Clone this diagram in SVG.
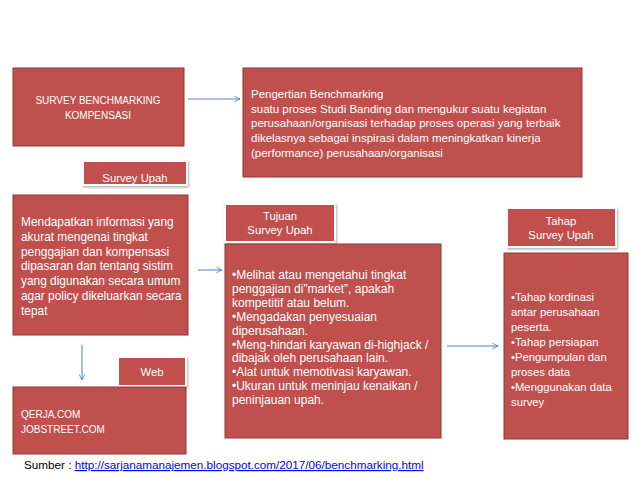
<svg xmlns="http://www.w3.org/2000/svg" width="638" height="478" viewBox="0 0 638 478">
<defs>
<style>
.box{fill:#C0504D;stroke:#8C3836;stroke-width:1}
.lbl{fill:#C0504D;stroke:#FFFFFF;stroke-width:2}
.t{font-family:"Liberation Sans",Arial,sans-serif;font-size:11.3px;fill:#FFFFFF}
.caps{font-size:10px}
.c{text-anchor:middle}
.conn{stroke:#4F81BD;stroke-width:1;fill:none;marker-end:url(#ah)}
.src{font-family:"Liberation Sans",Arial,sans-serif;font-size:11.7px;fill:#000000}
</style>
<marker id="ah" viewBox="0 0 10 10" refX="9" refY="5" markerWidth="7" markerHeight="7" orient="auto" markerUnits="userSpaceOnUse">
<path d="M1,1 L9,5 L1,9" fill="none" stroke="#4F81BD" stroke-width="1.2"/>
</marker>
<filter id="sh" x="-10%" y="-10%" width="130%" height="140%">
<feDropShadow dx="1" dy="1.5" stdDeviation="1.2" flood-color="#000" flood-opacity="0.3"/>
</filter>
</defs>
<rect width="638" height="478" fill="#FFFFFF"/>

<g id="connectors">
<line class="conn" x1="188" y1="99" x2="240" y2="99"/>
<line class="conn" x1="198" y1="270" x2="222" y2="270"/>
<line class="conn" x1="447" y1="346" x2="498" y2="346"/>
<line class="conn" x1="82" y1="345" x2="82" y2="380"/>
</g>

<g id="survey-benchmarking">
<rect class="box" x="13" y="68" width="171" height="78"/>
<text class="t c caps" x="98" y="104">SURVEY BENCHMARKING</text>
<text class="t c caps" x="98" y="119">KOMPENSASI</text>
</g>

<g id="pengertian">
<rect class="box" x="243" y="68" width="339" height="109"/>
<g class="t" style="font-size:11.5px">
<text x="251" y="98">Pengertian Benchmarking</text>
<text x="251" y="112.7">suatu proses Studi Banding dan mengukur suatu kegiatan</text>
<text x="251" y="127.4">perusahaan/organisasi terhadap proses operasi yang terbaik</text>
<text x="251" y="142.1">dikelasnya sebagai inspirasi dalam meningkatkan kinerja</text>
<text x="251" y="156.8">(performance) perusahaan/organisasi</text>
</g>
</g>

<g id="label-survey-upah">
<rect class="lbl" x="83" y="161" width="104" height="24" filter="url(#sh)"/>
<text class="t c" x="135" y="182">Survey Upah</text>
</g>

<g id="mendapatkan">
<rect class="box" x="13" y="195" width="175" height="140"/>
<g class="t" style="font-size:11.9px">
<text x="21" y="226">Mendapatkan informasi yang</text>
<text x="21" y="240.8">akurat mengenai tingkat</text>
<text x="21" y="255.6">penggajian dan kompensasi</text>
<text x="21" y="270.4">dipasaran dan tentang sistim</text>
<text x="21" y="285.2">yang digunakan secara umum</text>
<text x="21" y="300">agar policy  dikeluarkan secara</text>
<text x="21" y="314.8">tepat</text>
</g>
</g>

<g id="label-tujuan">
<rect class="lbl" x="225" y="204" width="110" height="38" filter="url(#sh)"/>
<text class="t c" x="280" y="220">Tujuan</text>
<text class="t c" x="280" y="234">Survey Upah</text>
</g>

<g id="tujuan">
<rect class="box" x="225" y="244" width="216" height="194"/>
<g class="t" style="font-size:12px">
<text x="232" y="279">•Melihat atau mengetahui tingkat</text>
<text x="232" y="292.9">penggajian di”market”, apakah</text>
<text x="232" y="306.8">kompetitif atau belum.</text>
<text x="232" y="320.7">•Mengadakan penyesuaian</text>
<text x="232" y="334.6">diperusahaan.</text>
<text x="232" y="348.5">•Meng-hindari karyawan di-highjack /</text>
<text x="232" y="362.4">dibajak oleh perusahaan lain.</text>
<text x="232" y="376.3">•Alat untuk memotivasi karyawan.</text>
<text x="232" y="390.2">•Ukuran untuk meninjau kenaikan /</text>
<text x="232" y="404.1">peninjauan  upah.</text>
</g>
</g>

<g id="label-tahap">
<rect class="lbl" x="507" y="208" width="109" height="39" filter="url(#sh)"/>
<text class="t c" x="561" y="225">Tahap</text>
<text class="t c" x="561" y="239">Survey Upah</text>
</g>

<g id="tahap">
<rect class="box" x="504" y="253" width="124" height="186"/>
<text class="t" x="511" y="301">•Tahap kordinasi</text>
<text class="t" x="511" y="316">antar perusahaan</text>
<text class="t" x="511" y="331">peserta.</text>
<text class="t" x="511" y="346">•Tahap persiapan</text>
<text class="t" x="511" y="361">•Pengumpulan dan</text>
<text class="t" x="511" y="376">proses data</text>
<text class="t" x="511" y="391">•Menggunakan data</text>
<text class="t" x="511" y="406">survey</text>
</g>

<g id="label-web">
<rect class="lbl" x="118" y="357" width="68" height="29" filter="url(#sh)"/>
<text class="t c" x="152" y="376">Web</text>
</g>

<g id="web">
<rect class="box" x="13" y="387" width="173" height="67"/>
<text class="t caps" x="21" y="418">QERJA.COM</text>
<text class="t caps" x="21" y="433">JOBSTREET.COM</text>
</g>

<g id="sumber">
<text class="src" x="24" y="469">Sumber : <tspan fill="#0000FF" text-decoration="underline">http://sarjanamanajemen.blogspot.com/2017/06/benchmarking.html</tspan></text>
</g>
</svg>
